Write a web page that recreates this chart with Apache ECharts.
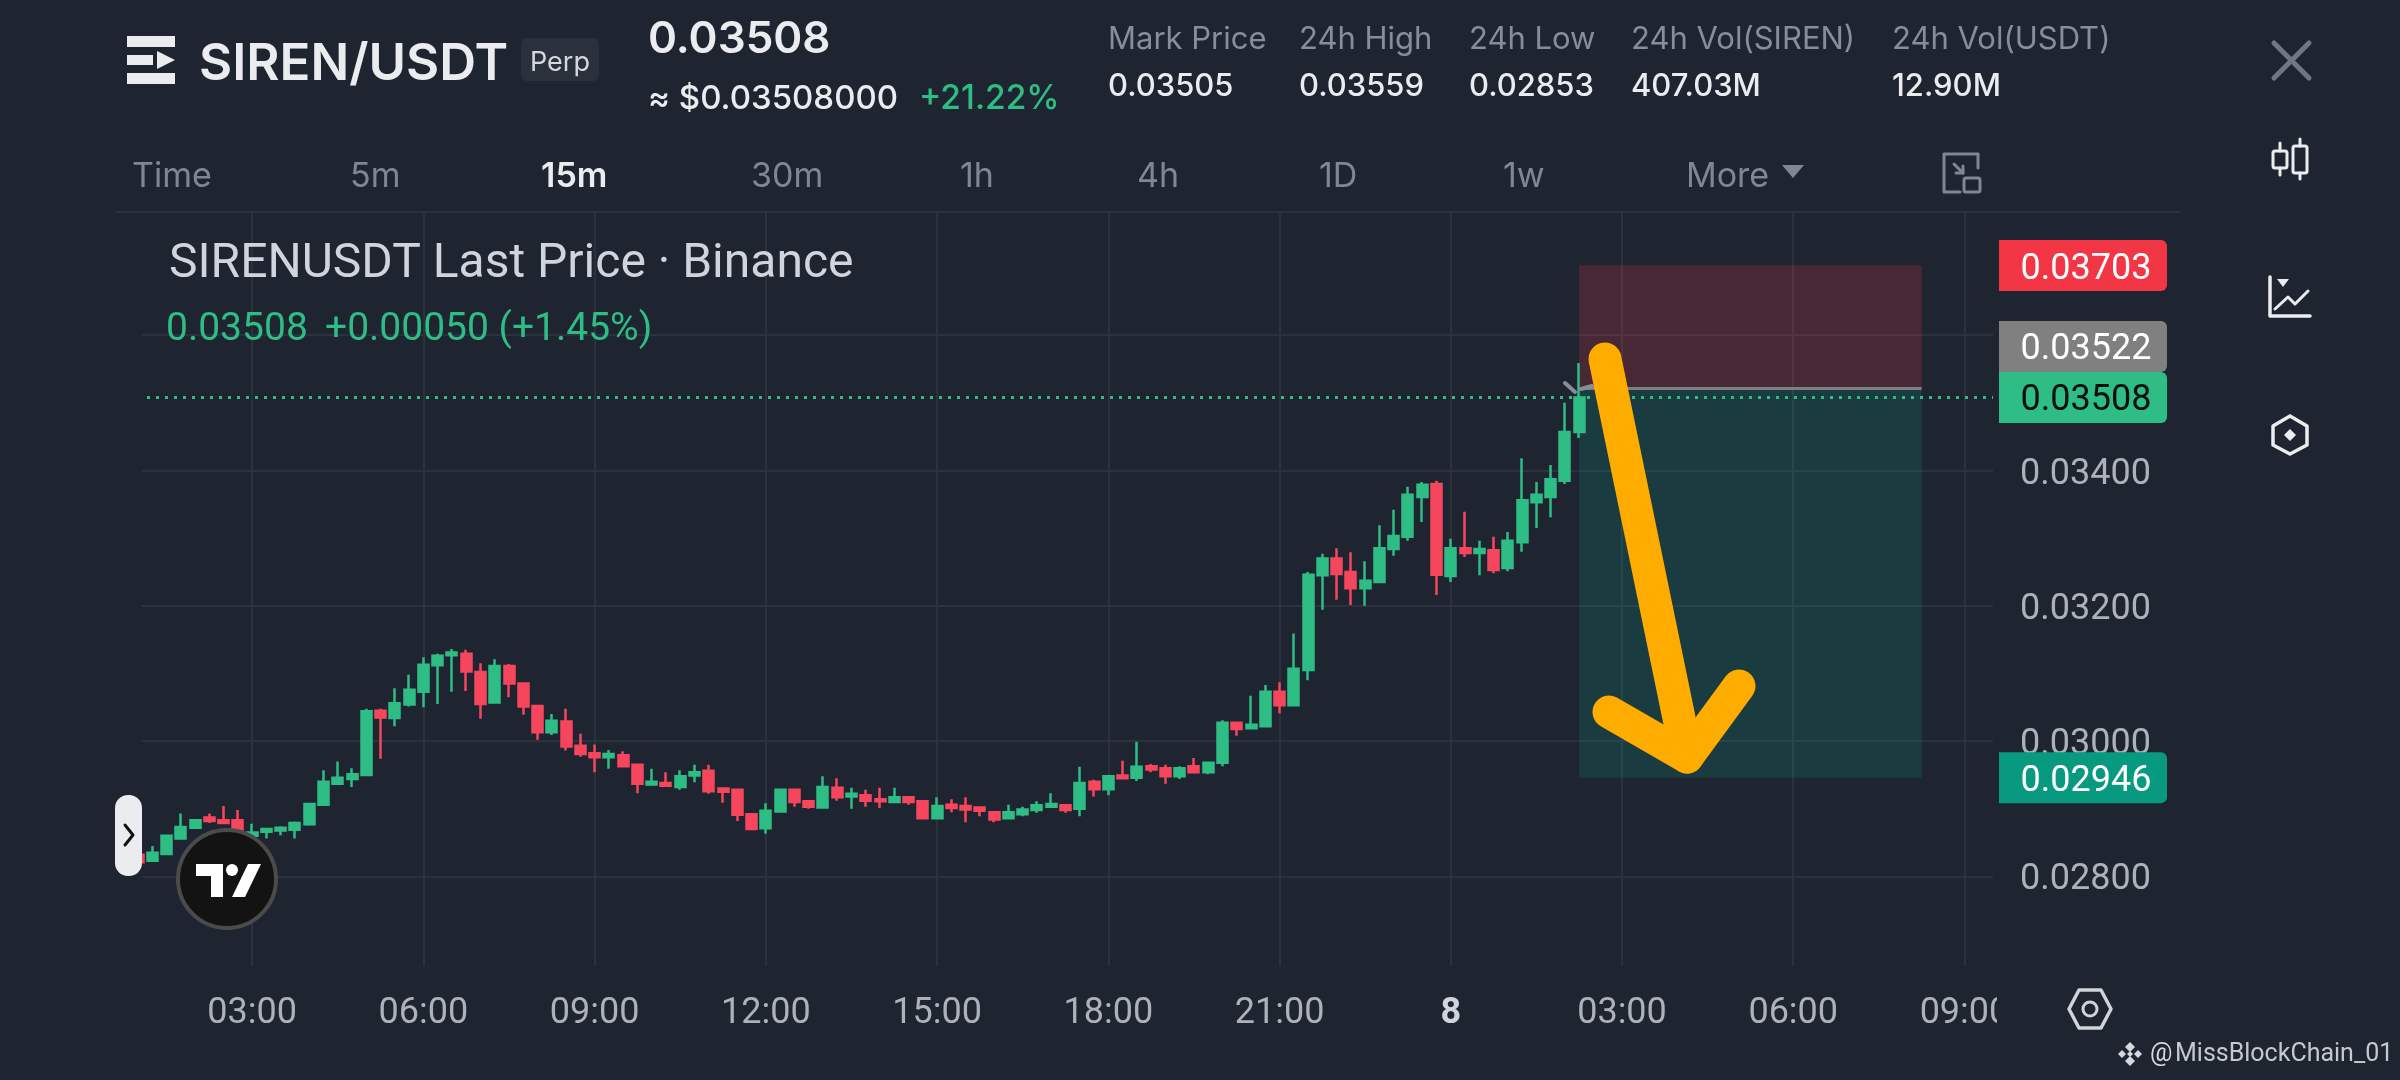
<!DOCTYPE html>
<html><head><meta charset="utf-8">
<style>html,body{margin:0;padding:0;background:#1e2530}#c{width:2400px;height:1080px}</style>
<script src="https://cdn.jsdelivr.net/npm/echarts@6/dist/echarts.min.js"></script>
</head><body><div id="c"></div>
<script>
// 15-minute candles, index 0 = 01:00
const opens=[.02832,.02823,.02833,.02856,.02872,.02887,.02883,.02883,.02860,.02866,.02868,.02869,.02877,.02906,.02937,.02944,.02950,.03045,.03034,.03054,.03073,.03112,.03127,.03129,.03102,.03057,.03111,.03085,.03052,.03013,.03029,.02993,.02982,.02976,.02979,.02965,.02936,.02938,.02932,.02949,.02956,.02930,.02928,.02892,.02871,.02896,.02928,.02911,.02902,.02931,.02918,.02920,.02914,.02910,.02917,.02911,.02886,.02906,.02904,.02902,.02895,.02886,.02892,.02898,.02903,.02905,.02900,.02940,.02929,.02949,.02946,.02963,.02960,.02948,.02963,.02954,.02968,.03027,.03019,.03022,.03073,.03053,.03105,.03245,.03270,.03250,.03226,.03235,.03284,.03302,.03361,.03380,.03244,.03285,.03278,.03282,.03256,.03294,.03353,.03361,.03385,.03457];
const closes=[.02821,.02835,.02860,.02873,.02883,.02882,.02879,.02869,.02865,.02870,.02872,.02879,.02907,.02940,.02946,.02951,.03044,.03035,.03056,.03076,.03113,.03126,.03131,.03103,.03055,.03111,.03085,.03051,.03013,.03030,.02992,.02981,.02976,.02981,.02963,.02937,.02940,.02934,.02948,.02954,.02926,.02925,.02891,.02870,.02897,.02928,.02910,.02903,.02932,.02917,.02922,.02912,.02911,.02917,.02910,.02886,.02904,.02901,.02899,.02897,.02884,.02895,.02899,.02905,.02907,.02898,.02938,.02929,.02948,.02945,.02962,.02958,.02948,.02960,.02954,.02968,.03027,.03018,.03024,.03073,.03053,.03107,.03246,.03270,.03247,.03226,.03237,.03285,.03303,.03364,.03379,.03246,.03285,.03278,.03284,.03253,.03296,.03356,.03364,.03387,.03457,.03508];
const lows=[.02820,.02823,.02832,.02854,.02872,.02879,.02879,.02866,.02860,.02856,.02861,.02856,.02875,.02906,.02935,.02932,.02949,.02974,.03022,.03051,.03050,.03055,.03073,.03074,.03033,.03057,.03065,.03039,.03002,.03009,.02986,.02977,.02954,.02959,.02961,.02923,.02936,.02932,.02928,.02939,.02922,.02909,.02882,.02870,.02863,.02896,.02903,.02900,.02902,.02912,.02900,.02903,.02901,.02910,.02906,.02886,.02886,.02895,.02880,.02889,.02880,.02886,.02889,.02894,.02903,.02894,.02889,.02918,.02920,.02945,.02941,.02954,.02937,.02944,.02953,.02951,.02963,.03008,.03019,.03020,.03041,.03053,.03090,.03194,.03209,.03201,.03200,.03235,.03274,.03296,.03324,.03216,.03235,.03272,.03245,.03248,.03251,.03280,.03315,.03331,.03380,.03448];
const highs=[.02835,.02845,.02860,.02893,.02885,.02893,.02904,.02898,.02878,.02871,.02874,.02881,.02909,.02957,.02970,.02960,.03048,.03048,.03078,.03098,.03124,.03129,.03136,.03135,.03115,.03121,.03114,.03085,.03053,.03040,.03048,.03011,.02995,.02987,.02985,.02965,.02959,.02954,.02957,.02965,.02965,.02930,.02930,.02893,.02908,.02930,.02928,.02911,.02948,.02945,.02931,.02928,.02931,.02931,.02917,.02911,.02917,.02914,.02917,.02902,.02896,.02906,.02903,.02911,.02923,.02905,.02962,.02943,.02948,.02971,.02999,.02966,.02965,.02963,.02975,.02970,.03031,.03028,.03067,.03083,.03087,.03159,.03250,.03277,.03285,.03279,.03266,.03319,.03342,.03376,.03383,.03385,.03299,.03339,.03296,.03302,.03309,.03418,.03383,.03408,.03500,.03559];
const tickLabels=['03:00','06:00','09:00','12:00','15:00','18:00','21:00','8','03:00','06:00','09:00'];
const slotCount=131;
const categories=Array.from({length:slotCount},(_,i)=>String(i));
const lastPrice=0.03508;
const stopPrice=0.03703, entryPrice=0.03522, targetPrice=0.02946;
const positionStart=101, positionEnd=125;
const badgePrices=[0.03703,0.03522,0.03508,0.02946];
const badgeFills=['#f23645','#808080','#2ebd85','#089981'];
const badgeInks=['#ffffff','#ffffff','#0b0e11','#ffffff'];
const statLabels=['Mark Price','24h High','24h Low','24h Vol(SIREN)','24h Vol(USDT)'];
const statValues=['0.03505','0.03559','0.02853','407.03M','12.90M'];
const tabs=['Time','5m','15m','30m','1h','4h','1D','1w','More'];

const BG='#1e2530',GRID='#2c323d',GREEN='#2ebd85',RED='#f6465d',AXIS='#adb1ba',MUTED='#7f8794';
const INTER='Inter, "Noto Sans", sans-serif',ROBOTO='Roboto, sans-serif';
const Z=100;
const T=(text,x,y,font,fill,align)=>({type:'text',z:Z,style:{text,x,y,font,fill,textAlign:align||'left',textVerticalAlign:'middle'}});
const L=(pts,stroke,w,extra)=>({type:'polyline',z:Z,shape:{points:pts},style:Object.assign({stroke,lineWidth:w,fill:null,lineCap:'round',lineJoin:'round'},extra||{})});
const P=(pts,fill)=>({type:'polygon',z:Z,shape:{points:pts},style:{fill}});
const R=(x,y,w,h,fill,r,z)=>({type:'rect',z:z||Z,shape:{x,y,width:w,height:h,r:r||0},style:{fill}});
const statX=[1108,1299,1469,1631,1892];
const tabX=[132,350,541,751,960,1137,1319,1503,1686];
const W='#eaecef';
const graphics=[
 R(138,205,4,765,BG,0,50),
 R(1997,985,60,50,BG,0,50),
 // brand
 R(127,36,48,11,W),R(127,73,48,11,W),R(127,55,26,10,W),P([[157,51],[175,60],[157,69]],W),
 T('SIREN/USDT',199,65,'600 51px '+INTER,W),
 R(521,38,78,43,'#2a313c',6),T('Perp',560,63,'27px '+INTER,'#d5d8dd','center'),
 T('0.03508',648,40,'600 44px '+INTER,W),
 T('≈ $0.03508000',648,99,'500 33px '+INTER,W),
 T('+21.22%',919,99,'500 33.5px '+INTER,GREEN),
 ...statLabels.map((s,i)=>T(s,statX[i],40,'31px '+INTER,'#848e9c')),
 ...statValues.map((s,i)=>T(s,statX[i],87,'500 31px '+INTER,W)),
 ...tabs.map((s,i)=>T(s,tabX[i],177,(i===2?'600 ':'')+'34px '+INTER,i===2?W:MUTED)),
 P([[1782,165],[1804,165],[1793,178]],MUTED),
 R(116,211,2064,2,GRID),
 // screen-split icon
 L([[1978,154],[1944,154],[1944,192],[1960,192]],MUTED,3),
 L([[1978,154],[1978,168]],MUTED,3),
 L([[1954,164],[1963,173]],MUTED,3),L([[1963,166],[1963,173],[1956,173]],MUTED,3),
 {type:'rect',z:Z,shape:{x:1964,y:178,width:16,height:14,r:2},style:{fill:null,stroke:MUTED,lineWidth:3}},
 // chart legend
 T('SIRENUSDT Last Price · Binance',169,265,'48px '+ROBOTO,'#d1d4dc'),
 T('0.03508',166,330,'39px '+ROBOTO,GREEN),
 T('+0.00050 (+1.45%)',325,330,'39px '+ROBOTO,GREEN),
 // small grey drawing handles
 L([[1565,383],[1575,392]],'#8a8d93',4),L([[1581,389],[1592,386]],'#8a8d93',4),
 // arrow
 L([[1605,359],[1687,757]],'#ffac00',33),
 L([[1609,712],[1687,757],[1739,686]],'#ffac00',33),
 // side drawer & logo
 R(115,795,27,81,'#eaecef',13),
 L([[125,825],[133,835],[125,845]],'#111',3),
 {type:'circle',z:Z,shape:{cx:227,cy:879,r:49},style:{fill:'#131313',stroke:'#4b4b4b',lineWidth:4}},
 P([[196,864],[223,864],[223,897],[211,897],[211,876],[196,876]],'#fff'),
 {type:'circle',z:Z,shape:{cx:232,cy:870,r:6},style:{fill:'#fff'}},
 P([[248,864],[261,864],[245,897],[232,897]],'#fff'),
 // right rail
 L([[2274,43],[2309,78]],'#6f7785',5),L([[2309,43],[2274,78]],'#6f7785',5),
 {type:'rect',z:Z,shape:{x:2273,y:151,width:14,height:17,r:2},style:{fill:null,stroke:W,lineWidth:3}},
 {type:'rect',z:Z,shape:{x:2293,y:146,width:14,height:27,r:2},style:{fill:null,stroke:W,lineWidth:3}},
 L([[2280,143],[2280,151]],W,3),L([[2280,168],[2280,175]],W,3),L([[2300,139],[2300,146]],W,3),L([[2300,173],[2300,179]],W,3),
 L([[2270,277],[2270,316],[2310,316]],W,3.5),
 L([[2275,309],[2288,297],[2295,304],[2308,291]],W,3),
 P([[2277,279],[2289,279],[2283,287]],W),
 L([[2290,416],[2307,426],[2307,445],[2290,454],[2273,445],[2273,426],[2290,416]],W,3.5),
 P([[2290,429],[2296,435],[2290,441],[2284,435]],W),
 // gear
 L([[2069,1009],[2079,990],[2101,990],[2111,1009],[2101,1028],[2079,1028],[2069,1009]],'#d0d3d8',3.5),
 {type:'circle',z:Z,shape:{cx:2090,cy:1009,r:7},style:{fill:null,stroke:'#d0d3d8',lineWidth:3}},
 // watermark
 P([[2130,1042],[2135,1047],[2130,1052],[2125,1047]],'#d5d8dd'),
 P([[2130,1056],[2135,1061],[2130,1066],[2125,1061]],'#d5d8dd'),
 P([[2122,1050],[2126,1054],[2122,1058],[2118,1054]],'#d5d8dd'),
 P([[2138,1050],[2142,1054],[2138,1058],[2134,1054]],'#d5d8dd'),
 P([[2130,1051],[2133,1054],[2130,1057],[2127,1054]],'#d5d8dd'),
 T('@',2150,1055,'25px '+ROBOTO,'#d5d8dd'),
 T('MissBlockChain_01',2175,1055,'25px '+ROBOTO,'#c5c8cf')
];
const onTick=i=>i%12===8;
const option={
 backgroundColor:BG,animation:false,
 grid:[
  {left:138,width:1855,top:199.9,height:811.8},
  {left:138,width:1855,top:212,height:754}
 ],
 xAxis:[
  {type:'category',gridIndex:0,data:categories,boundaryGap:false,axisLine:{show:false},axisTick:{show:false},axisLabel:{show:false},splitLine:{show:false}},
  {type:'category',gridIndex:1,data:categories,boundaryGap:false,axisLine:{show:false},axisTick:{show:false},
   splitLine:{show:true,interval:onTick,lineStyle:{color:GRID,width:2}},
   axisLabel:{show:true,interval:onTick,margin:30,color:AXIS,fontFamily:'Roboto',fontSize:36,
    formatter:(v,i)=>{const s=tickLabels[(i-8)/12];return s==='8'?'{b|8}':s;},
    rich:{b:{fontFamily:'Roboto',fontSize:36,fontWeight:700,color:'#d1d4dc'}}}}
 ],
 yAxis:[
  {type:'value',gridIndex:0,position:'right',min:0.026,max:0.038,interval:0.002,
   axisLine:{show:false},axisTick:{show:false},
   splitLine:{show:true,showMinLine:false,showMaxLine:false,lineStyle:{color:GRID,width:2}},
   axisLabel:{show:true,showMinLabel:false,showMaxLabel:false,margin:27,verticalAlign:'top',padding:[-14,0,0,0],color:AXIS,fontFamily:'Roboto',fontSize:36,formatter:v=>v.toFixed(5)}},
  {type:'value',gridIndex:1,show:false,min:0,max:1,splitLine:{show:false}}
 ],
 series:[
  {type:'line',xAxisIndex:0,yAxisIndex:0,data:[],z:1,silent:true,symbol:'none',
   markArea:{silent:true,data:[
    [{coord:[positionStart,stopPrice],itemStyle:{color:'rgba(242,54,69,0.2)'}},{coord:[positionEnd,entryPrice]}],
    [{coord:[positionStart,entryPrice],itemStyle:{color:'rgba(8,153,129,0.2)'}},{coord:[positionEnd,targetPrice]}]
   ]},
   markLine:{silent:true,symbol:'none',label:{show:false},
    data:[
     [{coord:[positionStart,entryPrice],lineStyle:{color:'#7c7f85',width:3,type:'solid'}},{coord:[positionEnd,entryPrice]}],
     [{coord:[0,lastPrice],lineStyle:{color:GREEN,width:3,type:[3,6]}},{coord:[slotCount-1,lastPrice]}]
    ]}},
  {type:'candlestick',name:'SIRENUSDT',xAxisIndex:0,yAxisIndex:0,z:3,barWidth:10.5,
   itemStyle:{color:GREEN,color0:RED,borderColor:GREEN,borderColor0:RED,borderWidth:2.5},
   data:opens.map((o,i)=>[o,closes[i],lows[i],highs[i]])},
  {type:'custom',xAxisIndex:0,yAxisIndex:0,z:5,zlevel:1,silent:true,clip:false,
   data:badgePrices.map((p,i)=>[0,p]),
   renderItem:(params,api)=>{
    const cs=params.coordSys,i=params.dataIndex,h=51;
    let y=api.coord([0,api.value(1)])[1];
    if(i+1<badgePrices.length){const ny=api.coord([0,badgePrices[i+1]])[1];if(ny-y<h)y=ny-h;}
    const x=cs.x+cs.width+6;
    return {type:'group',children:[
     {type:'rect',shape:{x,y:y-h/2,width:168,height:h,r:[0,6,6,0]},style:{fill:badgeFills[i]}},
     {type:'text',style:{text:api.value(1).toFixed(5),x:x+21.5,y:y+4,fill:badgeInks[i],font:'36px Roboto',textAlign:'left',textVerticalAlign:'middle'}}
    ]};
   }}
 ],
 graphic:graphics
};
const chart=echarts.init(document.getElementById('c'),null,{width:2400,height:1080});
chart.setOption(option);
</script></body></html>
